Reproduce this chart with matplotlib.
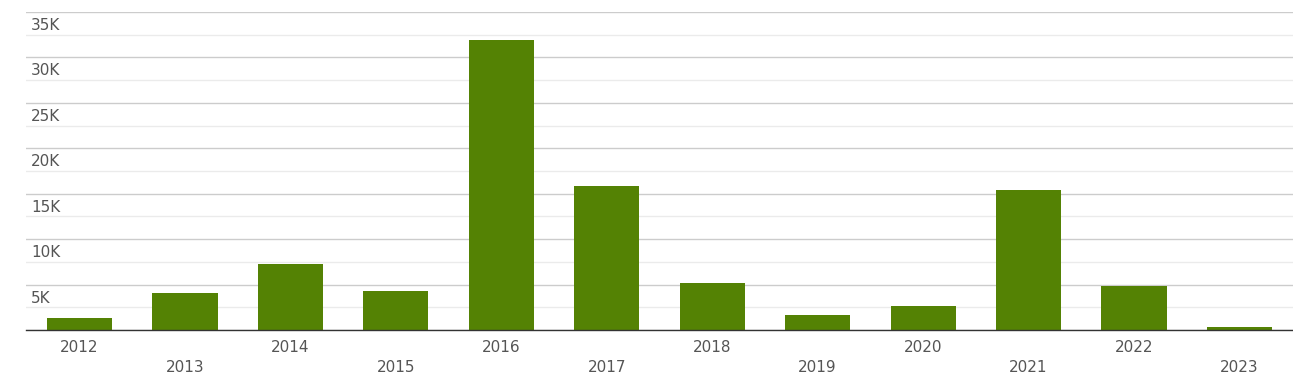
import matplotlib
matplotlib.use("Agg")
import matplotlib.pyplot as plt
from matplotlib.ticker import MultipleLocator

years = ["2012", "2013", "2014", "2015", "2016", "2017",
         "2018", "2019", "2020", "2021", "2022", "2023"]
values = [1300, 4050, 7250, 4300, 31900, 15850,
          5150, 1650, 2650, 15400, 4850, 330]
y_ticks = [5000, 10000, 15000, 20000, 25000, 30000, 35000]
y_labels = ["5K", "10K", "15K", "20K", "25K", "30K", "35K"]

fig = plt.figure(figsize=(12.93, 3.84), dpi=100)
ax = fig.add_axes([26 / 1293, 54 / 384, 1 - 26 / 1293, 318 / 384])

x = list(range(len(years)))
ax.bar(x, values, width=0.617, color="#548204", zorder=3)

ax.set_xlim(-0.508, len(years) - 1 + 0.508)
ax.set_ylim(0, 35000)

# grid: major every 5K, minor in between
ax.yaxis.set_major_locator(MultipleLocator(5000))
ax.yaxis.set_minor_locator(MultipleLocator(2500))
ax.grid(which="major", axis="y", color="#cccccc", linewidth=1, zorder=0)
ax.grid(which="minor", axis="y", color="#ebebeb", linewidth=1, zorder=0)
ax.tick_params(axis="y", which="both", left=False, labelleft=False)
ax.tick_params(axis="x", bottom=False, labelbottom=False)

for s in ["top", "right", "left"]:
    ax.spines[s].set_visible(False)
ax.spines["bottom"].set_color("#333333")
ax.spines["bottom"].set_linewidth(1)
ax.spines["bottom"].set_zorder(4)

# y labels sit inside the plot, just under their gridline
for val, lab in zip(y_ticks, y_labels):
    ax.annotate(lab, xy=(0, val), xycoords=("axes fraction", "data"),
                xytext=(5, -6), textcoords="offset pixels",
                ha="left", va="top", fontsize=11, color="#555555")

# x labels alternate between two rows
for i, yr in enumerate(years):
    off = -18 if i % 2 == 0 else -38
    ax.annotate(yr, xy=(i, 0), xycoords=("data", "axes fraction"),
                xytext=(0, off), textcoords="offset pixels",
                ha="center", va="center", fontsize=11, color="#555555")

fig.savefig("out.png", dpi=100)
